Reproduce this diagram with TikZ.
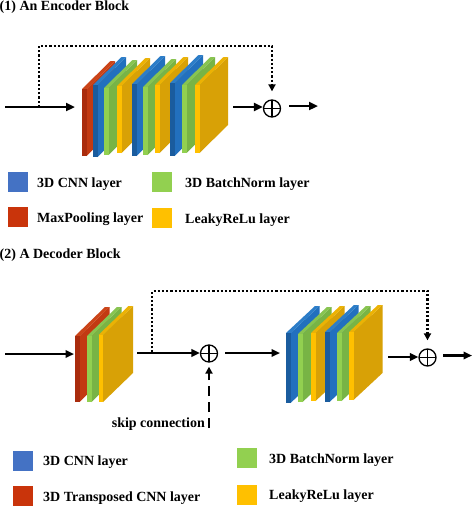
\documentclass[tikz,border=0pt]{standalone}
\usepackage{fontspec}
\setmainfont{Liberation Serif}
\usetikzlibrary{arrows.meta}
\definecolor{redfront}{HTML}{A92C0D}
\definecolor{redside}{HTML}{C23A12}
\definecolor{redtop}{HTML}{CB4418}
\definecolor{bluefront}{HTML}{1A5C9E}
\definecolor{blueside}{HTML}{2270BE}
\definecolor{bluetop}{HTML}{2C7DC8}
\definecolor{greenfront}{HTML}{92D050}
\definecolor{greenside}{HTML}{78B445}
\definecolor{greentop}{HTML}{88C450}
\definecolor{yellowfront}{HTML}{FFC000}
\definecolor{yellowside}{HTML}{D8A106}
\definecolor{yellowtop}{HTML}{ECB204}
\definecolor{legblue}{HTML}{4472C4}
\definecolor{leggreen}{HTML}{92D050}
\definecolor{legred}{HTML}{C9340B}
\definecolor{legyellow}{HTML}{FFC000}
\def\SX{28.5}\def\SY{28}\def\ST{4.5}
\newcommand{\slab}[4]{%
  \fill[#4side] (#1+\ST,#2) -- ++(\SX,-\SY) -- ++(0,#3) -- ++(-\SX,\SY) -- cycle;
  \fill[#4top] (#1,#2) -- ++(\SX,-\SY) -- ++(\ST,0) -- ++(-\SX,\SY) -- cycle;
  \fill[#4front] (#1,#2) rectangle ++(\ST,#3);
}
\begin{document}
\begin{tikzpicture}[x=1pt,y=-1pt,
  lbl/.style={font=\fontsize{14}{16}\selectfont\bfseries, inner sep=0, anchor=base west},
  legbox/.style={minimum size=20pt, inner sep=0, draw=none},
  plusnode/.style={circle, draw, line width=1.3pt, minimum size=17pt, inner sep=0,
    path picture={\draw[line width=1.1pt] (path picture bounding box.north) -- (path picture bounding box.south)
      (path picture bounding box.west) -- (path picture bounding box.east);}},
  arr/.style={line width=2.5pt, -{Triangle[length=9pt,width=8pt]}},
  darr/.style={line width=2.1pt, -{Triangle[length=8.5pt,width=7.5pt]}},
  dotarr/.style={line width=2.2pt, dash pattern=on 2.2pt off 2pt, -{Triangle[length=7pt,width=7pt]}},
  dasharr/.style={line width=2pt, dash pattern=on 10pt off 6pt, -{Triangle[length=7pt,width=7pt]}}
]
\useasboundingbox (0,0) rectangle (474,507);
\fill[white] (0,0) rectangle (474,507);

% ---------- Encoder ----------
\node[lbl] (t1) at (-0.5,10.5) {(1) An Encoder Block};

\slab{82}{89}{67}{red}
\slab{93}{85}{72}{blue}
\slab{104}{88}{67}{green}
\slab{117}{86}{67}{yellow}
\slab{132}{84}{72}{blue}
\slab{143}{87}{68}{green}
\slab{155}{85}{68}{yellow}
\slab{170}{83}{73}{blue}
\slab{182}{85}{68}{green}
\slab{195}{85}{68}{yellow}

\coordinate (ein) at (5,107);
\coordinate (es) at (75,107);
\coordinate (edot) at (39,107);
\coordinate (etop) at (272,46);
\coordinate (eo) at (233,107);
\node[plusnode] (p1) at (272,108.5) {};
\coordinate (eo0) at (289,106);
\coordinate (eo1) at (318,106);

\draw[arr] (ein) -- (es);
\draw[dotarr, shorten >=8pt] (edot) |- (etop) -- (p1);
\draw[arr] (eo) -- (eo -| p1.west);
\draw[arr] (eo0) -- (eo1);

\node[legbox, fill=legblue] (lb1) at (18,182) {};
\node[lbl] (lt1) at (37,187) {3D CNN layer};
\node[legbox, fill=leggreen] (lg1) at (162,182) {};
\node[lbl] (ltg1) at (185,187) {3D BatchNorm layer};
\node[legbox, fill=legred] (lr1) at (18,217) {};
\node[lbl] (ltr1) at (37,222.5) {MaxPooling layer};
\node[legbox, fill=legyellow] (ly1) at (162,218) {};
\node[lbl] (lty1) at (185,223) {LeakyReLu layer};

% ---------- Decoder ----------
\node[lbl] (t2) at (-0.5,258) {(2) A Decoder Block};

\def\SX{30}\def\SY{29}
\slab{75}{336}{66}{red}
\slab{87}{336}{66}{green}
\slab{98.5}{335}{67}{yellow}

\def\SX{29}\def\SY{27}
\slab{286}{333}{70}{blue}
\slab{298}{334}{68}{green}
\slab{311}{333}{68}{yellow}
\slab{325}{332}{70}{blue}
\slab{337}{333}{68}{green}
\slab{349}{332}{68}{yellow}

\coordinate (din) at (5,354);
\coordinate (ds1) at (74,354);
\coordinate (do1) at (137,353);
\node[plusnode] (q1) at (209,353.5) {};
\coordinate (ddot) at (152,352.5);
\coordinate (dtop) at (427.5,291);
\coordinate (dq1o) at (225,353);
\coordinate (ds2) at (280,353);
\coordinate (do2) at (388,357);
\node[plusnode] (q2) at (427.5,357.5) {};
\coordinate (dout0) at (443,355.5);
\coordinate (dout) at (472,355.5);
\coordinate (skb) at (209,428);

\draw[darr] (din) -- (ds1);
\draw[darr] (do1) -- (do1 -| q1.west);
\draw[dotarr, shorten >=8pt] (ddot) |- (dtop) -- (q2);
\draw[darr] (dq1o) -- (ds2);
\draw[darr] (do2) -- (do2 -| q2.west);
\draw[darr] (dout0) -- (dout);
\draw[dasharr, shorten >=4pt] (skb) -- (q1);
\node[lbl, anchor=base east] (skl) at (205,427) {skip connection};

\node[legbox, fill=legblue] (lb2) at (23,460.5) {};
\node[lbl] (lt2) at (43,465) {3D CNN layer};
\node[legbox, fill=legred] (lr2) at (23,495.5) {};
\node[lbl] (ltr2) at (43,501) {3D Transposed CNN layer};
\node[legbox, fill=leggreen] (lg2) at (247,458) {};
\node[lbl] (ltg2) at (269,463) {3D BatchNorm layer};
\node[legbox, fill=legyellow] (ly2) at (247,495) {};
\node[lbl] (lty2) at (269,499) {LeakyReLu layer};
\end{tikzpicture}
\end{document}
